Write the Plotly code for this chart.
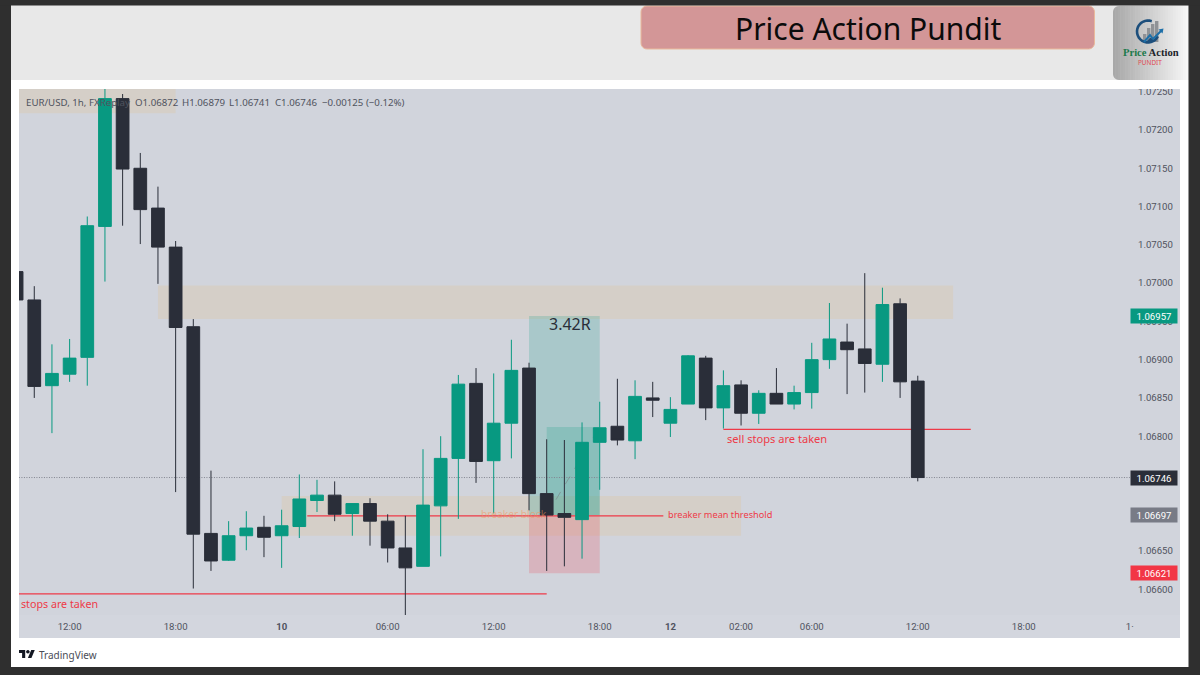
import math
import plotly.graph_objects as go

# ---- data ----
bar_index = list(range(52))
opens = [1.07015,1.06978,1.06866,1.06881,1.06903,1.07074,1.07241,1.07150,1.07098,1.07047,1.06943,1.06673,1.06638,1.06670,1.06681,1.06670,
         1.06682,1.06716,1.06723,1.06699,1.06712,1.06689,1.06654,1.06630,1.06709,1.06771,1.06869,1.06768,1.06817,1.06889,1.06725,1.06699,
         1.06691,1.06792,1.06813,1.06794,1.06850,1.06817,1.06842,1.06902,1.06837,1.06867,1.06830,1.06856,1.06842,1.06857,1.06900,1.06923,
         1.06914,1.06894,1.06973,1.06872]
highs = [1.07015,1.06996,1.06920,1.06927,1.07087,1.07255,1.07247,1.07170,1.07126,1.07055,1.06953,1.06755,1.06689,1.06702,1.06696,1.06704,
         1.06750,1.06743,1.06741,1.06712,1.06719,1.06698,1.06696,1.06783,1.06800,1.06880,1.06889,1.06882,1.06926,1.06896,1.06796,1.06795,
         1.06818,1.06845,1.06875,1.06873,1.06871,1.06851,1.06906,1.06905,1.06886,1.06873,1.06860,1.06889,1.06866,1.06922,1.06974,1.06947,
         1.07013,1.06994,1.06980,1.06879]
lows = [1.06978,1.06850,1.06804,1.06871,1.06866,1.07002,1.07075,1.07051,1.06999,1.06727,1.06601,1.06624,1.06637,1.06651,1.06642,1.06628,
        1.06667,1.06701,1.06689,1.06670,1.06657,1.06635,1.06566,1.06630,1.06643,1.06692,1.06739,1.06699,1.06771,1.06703,1.06624,1.06630,
        1.06640,1.06730,1.06788,1.06770,1.06825,1.06799,1.06842,1.06821,1.06810,1.06814,1.06816,1.06842,1.06835,1.06836,1.06888,1.06855,
        1.06857,1.06871,1.06850,1.06741]
closes = [1.06978,1.06865,1.06882,1.06902,1.07075,1.07241,1.07149,1.07096,1.07047,1.06942,1.06672,1.06637,1.06670,1.06680,1.06668,1.06683,
          1.06718,1.06723,1.06698,1.06712,1.06689,1.06654,1.06628,1.06710,1.06771,1.06868,1.06767,1.06817,1.06886,1.06725,1.06697,1.06694,
          1.06792,1.06811,1.06795,1.06852,1.06847,1.06835,1.06905,1.06837,1.06866,1.06830,1.06856,1.06842,1.06857,1.06900,1.06927,1.06913,
          1.06895,1.06972,1.06871,1.06746]

price_ticks = [1.0725,1.0720,1.0715,1.0710,1.0705,1.0700,1.0695,1.0690,1.0685,1.0680,1.0665,1.0660]
time_tickvals = [3,9,15,21,27,33,37,41,45,51,57,63]
time_ticktext = ["12:00","18:00","<b>10</b>","06:00","12:00","18:00","<b>12</b>","02:00","06:00","12:00","18:00","1·"]

zone_x0 = [-1, 8, 15]
zone_x1 = [9, 53, 41]
zone_top = [1.0726, 1.06997, 1.06722]
zone_bottom = [1.07222, 1.06953, 1.06670]

level_x0 = [-1, 16.45, 40]
level_x1 = [30, 36.6, 54]
level_price = [1.06594, 1.06696, 1.06809]

last_price = 1.06746
tag_prices = [1.06957, 1.06746, 1.06697, 1.06621]
tag_colors = ["#089981", "#2a2e39", "#787b86", "#f23645"]

trade_entry = 1.06697
trade_target = 1.06957
trade_stop = 1.06621
trade_high = 1.06812

notes = ["stops are taken", "breaker mean threshold", "sell stops are taken"]
notes_x = [0.22, 36.82, 40.12]
notes_y = [1.06581, 1.06698, 1.06797]
notes_size = [10.7, 9.2, 11.1]

legend_parts = ["EUR/USD, 1h, FXReplay", "O1.06872", "H1.06879", "L1.06741", "C1.06746", "−0.00125 (−0.12%)"]
legend_px = [24.5, 134, 180.7, 228, 274, 320.7]

# ---- page geometry (pixels) ----
W, H = 1200, 675
PL, PR, PT, PB = 19, 1180, 89, 615
def fx(px): return (px - PL) / (PR - PL)
def fy(py): return (PB - py) / (PB - PT)

shapes = []
def prect(x0, y0, x1, y1, fill, layer="above", line=None):
    shapes.append(dict(type="rect", xref="paper", yref="paper", x0=fx(x0), x1=fx(x1), y0=fy(y1), y1=fy(y0),
                       fillcolor=fill, line=dict(width=0) if line is None else line, layer=layer))
def ppath(points, fill=None, line=None, layer="above", close=True):
    d = "M" + " L".join(f"{fx(a):.5f},{fy(b):.5f}" for a, b in points) + (" Z" if close else "")
    shapes.append(dict(type="path", xref="paper", yref="paper", path=d, layer=layer,
                       fillcolor=fill if fill else "rgba(0,0,0,0)", line=line if line else dict(width=0)))
def round_pts(x0, y0, x1, y1, r):
    pts = []
    for cx, cy, a0 in [(x1-r, y0+r, -90), (x1-r, y1-r, 0), (x0+r, y1-r, 90), (x0+r, y0+r, 180)]:
        for k in range(7):
            a = math.radians(a0 + 15*k)
            pts.append((cx + r*math.cos(a), cy + r*math.sin(a)))
    return pts

# time axis band
prect(PL, PB, PR, 638, "#d3d6de", layer="below")

# zones
ZONE = "#d5cfc8"
for a, b, t, u in zip(zone_x0, zone_x1, zone_top, zone_bottom):
    shapes.append(dict(type="rect", xref="x", yref="y", x0=a, x1=b, y0=u, y1=t, fillcolor=ZONE, line=dict(width=0), layer="below"))

# trade box
for x0, x1, y0, y1, col in [(29, 33, trade_entry, trade_target, "rgba(8,153,129,0.20)"),
                            (29, 33, trade_stop, trade_entry, "rgba(242,54,69,0.20)"),
                            (30, 33, trade_entry, trade_high, "rgba(8,153,129,0.20)")]:
    shapes.append(dict(type="rect", xref="x", yref="y", x0=x0, x1=x1, y0=y0, y1=y1, fillcolor=col, line=dict(width=0), layer="below"))
shapes.append(dict(type="line", xref="x", yref="y", x0=30, x1=33, y0=trade_entry, y1=trade_high,
                   line=dict(color="#7f9a9a", width=1, dash="dash"), layer="below"))

# level lines
for a, b, p in zip(level_x0, level_x1, level_price):
    shapes.append(dict(type="line", xref="x", yref="y", x0=a, x1=b, y0=p, y1=p, line=dict(color="#ee3a48", width=1.3), layer="below"))

# last price line
shapes.append(dict(type="line", xref="x", yref="y", x0=-1, x1=63, y0=last_price, y1=last_price,
                   line=dict(color="#80838e", width=1, dash="1px,1.5px"), layer="below"))

# header
prect(0, 80, W, PT, "#ffffff")
prect(0, 0, W, 80, "#e8e8e8")
ppath(round_pts(641, 6, 1094.5, 49, 6), fill="#d39697", line=dict(color="#e9b99c", width=1))

# logo
n = 30
for k in range(n):
    c = int(168 + (246 - 168) * k / (n - 1))
    prect(1113 + 75*k/n, 6, 1113 + 75*(k+1)/n + 0.4, 80, f"rgb({c},{c},{c})")
for cx, cy, hx, hy in [(1113, 6, 1, 1), (1113, 80, 1, -1)]:
    ppath([(cx, cy), (cx+6, cy)] + [(cx+6-6*math.sin(math.radians(t)), cy+hy*(6-6*math.cos(math.radians(t)))) for t in range(15, 91, 15)], fill="#e8e8e8")
for x0, top in [(1143, 34), (1147, 28), (1151, 24), (1155, 21)]:
    prect(x0, top, x0+3.4, 42, "#8f9296")
ring = [(1148 + 11*math.cos(math.radians(a)), 31.5 + 11*math.sin(math.radians(a))) for a in range(-70, -339, -12)]
ppath(ring, line=dict(color="#1d4f7c", width=2.6), close=False)
ppath([(1144, 42), (1150, 35), (1153, 39), (1162, 30)], line=dict(color="#1d6fa8", width=2), close=False)
ppath([(1163.5, 28.5), (1158.5, 29.5), (1162.5, 33.5)], fill="#1d6fa8")
ppath([(1146, 42), (1150.5, 37.5), (1155, 42)], fill="#1d4f7c")

# TradingView mark
def tv(u, v): return (19 + u*0.444, 650 + (v-4)*0.444)
ppath([tv(*p) for p in [(14,22),(7,22),(7,11),(0,11),(0,4),(14,4)]], fill="#131722")
ppath([tv(*p) for p in [(28,22),(20,22),(27.5,4),(35.5,4)]], fill="#131722")
ppath([tv(20+4*math.cos(math.radians(a)), 8+4*math.sin(math.radians(a))) for a in range(0, 360, 30)], fill="#131722")

# frame
FRAME = "#2f2f2f"
prect(0, 0, 11, H, FRAME)
prect(1188.5, 0, W, H, FRAME)
prect(0, 0, W, 5.5, FRAME)
prect(0, 667, W, H, FRAME)

# ---- annotations ----
anns = []
SANS = "Noto Sans"
TXT = "#50535e"
def note(text, x, y, color, size, family=SANS, anchor="left", xref="x", yref="y"):
    anns.append(dict(text=text, x=x, y=y, xref=xref, yref=yref, showarrow=False, xanchor=anchor, yanchor="middle",
                     align=anchor, borderpad=0, font=dict(color=color, size=size, family=family)))

for t, x, y, s in zip(notes, notes_x, notes_y, notes_size):
    note(t, x, y, "#ee3a48", s)
note("breaker block", 26.2, 1.06698, "rgba(244,150,90,0.55)", 10.2)
note("3.42R", 31.3, 1.06946, "#2a2e39", 16, anchor="center")
for t, px in zip(legend_parts, legend_px):
    note(t, fx(px), fy(102), TXT, 9.7, xref="paper", yref="paper")
note("Price Action Pundit", fx(868), fy(28), "#0b0b0b", 30, anchor="center", xref="paper", yref="paper")
note('<b><span style="color:#1c7a4a">Price</span> <span style="color:#20242a">Action</span></b>', fx(1151), fy(52), "#20242a", 10.6,
     family="Liberation Serif", anchor="center", xref="paper", yref="paper")
note("PUNDIT", fx(1150), fy(62), "#e04a50", 6.4, anchor="center", xref="paper", yref="paper")
note("TradingView", fx(37.5), fy(654.5), "#4a4d57", 10, xref="paper", yref="paper")

for p, c in zip(tag_prices, tag_colors):
    anns.append(dict(text=f"{p:.5f}", x=fx(1153.7), y=p, xref="paper", yref="y", showarrow=False, xanchor="center", yanchor="middle",
                     width=46, height=14, bgcolor=c, borderpad=0, font=dict(color="#ffffff", size=9.6, family="Roboto")))

# ---- figure ----
fig = go.Figure(go.Candlestick(
    x=bar_index, open=opens, high=highs, low=lows, close=closes,
    increasing=dict(line=dict(color="#089981", width=1), fillcolor="#089981"),
    decreasing=dict(line=dict(color="#2a2e39", width=1), fillcolor="#2a2e39"),
    hoverinfo="skip", showlegend=False))

p2y = lambda py: 1.072 - (py - 130) / 76550
fig.update_layout(
    width=W, height=H, margin=dict(l=PL, r=W-PR, t=PT, b=H-PB, autoexpand=False),
    paper_bgcolor="#ffffff", plot_bgcolor="#d1d4dc", boxgap=0.28, boxgroupgap=0, showlegend=False,
    shapes=shapes, annotations=anns,
    xaxis=dict(range=[(PL-16.6)/17.67, (PR-16.6)/17.67], rangeslider=dict(visible=False), showgrid=False, zeroline=False, showline=False,
               tickmode="array", tickvals=time_tickvals, ticktext=time_ticktext, ticks="outside", ticklen=2, tickcolor="rgba(0,0,0,0)",
               tickfont=dict(family="Roboto", size=9.6, color=TXT)),
    yaxis=dict(range=[p2y(PB), p2y(PT)], side="right", showgrid=False, zeroline=False, showline=False, ticklabelposition="inside",
               ticklabeloverflow="allow", tickmode="array", tickvals=price_ticks, ticktext=[f"{v:.5f}" for v in price_ticks],
               ticks="inside", ticklen=6, tickcolor="rgba(0,0,0,0)", tickfont=dict(family="Roboto", size=9.6, color=TXT)),
)
fig.write_html("out.html", config=dict(displayModeBar=False),
               post_script="document.body.style.margin='0';document.body.style.overflow='hidden';")
